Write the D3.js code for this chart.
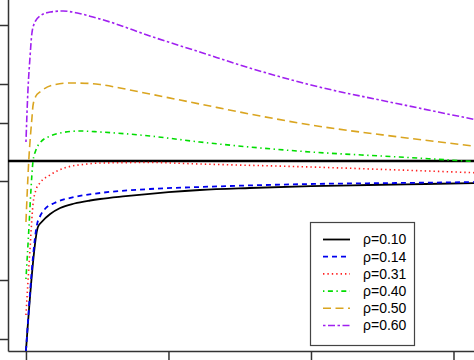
<!DOCTYPE html>
<html>
<head>
<meta charset="utf-8">
<script src="https://cdn.jsdelivr.net/npm/d3@7"></script>
<style>
  body { margin: 0; background: #fff; }
  svg { display: block; font-family: "Liberation Sans", Arial, sans-serif; }
</style>
</head>
<body>
<div id="chart"></div>
<script>
// ticks (labels are cropped off in the reference)
var xTicks = [0, 1, 2, 3];
var yTicks = [1.36, 0.77, 0.38, -0.20, -1.19, -1.78];

// one series per rho
var rhoLabels = ["ρ=0.10", "ρ=0.14", "ρ=0.31", "ρ=0.40", "ρ=0.50", "ρ=0.60"];

var xBlack  = [0, 0.084, 0.11, 0.17, 0.24, 0.34, 0.45, 0.52, 0.7, 0.87, 1.0, 1.22, 1.57, 2.0, 2.4, 2.8, 3.2];
var yBlack  = [-1.90, -0.66, -0.61, -0.53, -0.47, -0.425, -0.395, -0.38, -0.352, -0.328, -0.312, -0.29, -0.27, -0.252, -0.24, -0.23, -0.22];

var xBlue   = [0, 0.08, 0.1, 0.133, 0.2, 0.34, 0.52, 0.87, 1.22, 2.0, 2.6, 3.2];
var yBlue   = [-1.90, -0.62, -0.55, -0.48, -0.42, -0.36, -0.32, -0.28, -0.26, -0.23, -0.22, -0.21];

var xRed    = [0, 0.028, 0.049, 0.07, 0.098, 0.17, 0.27, 0.43, 0.52, 0.87, 1.22, 2.0, 2.62, 3.2];
var yRed    = [-1.54, -0.89, -0.44, -0.29, -0.22, -0.14, -0.07, -0.03, -0.02, -0.015, -0.03, -0.06, -0.09, -0.12];

var xGreen  = [0, 0.02, 0.035, 0.049, 0.07, 0.098, 0.17, 0.24, 0.38, 0.52, 0.87, 1.22, 2.0, 2.62, 3.2];
var yGreen  = [-1.18, -0.69, -0.29, -0.01, 0.11, 0.18, 0.25, 0.28, 0.30, 0.29, 0.25, 0.19, 0.09, 0.04, -0.01];

var xOrange = [0, 0.02, 0.042, 0.05, 0.07, 0.098, 0.19, 0.31, 0.45, 0.52, 0.66, 0.87, 1.22, 1.57, 2.0, 2.62, 3.2];
var yOrange = [-0.61, 0.01, 0.43, 0.56, 0.65, 0.69, 0.76, 0.78, 0.775, 0.765, 0.73, 0.67, 0.57, 0.47, 0.36, 0.24, 0.14];

var xPurple = [0, 0.014, 0.028, 0.042, 0.063, 0.098, 0.17, 0.26, 0.36, 0.47, 0.59, 0.87, 1.22, 1.57, 2.0, 2.62, 3.2];
var yPurple = [0.19, 0.71, 1.03, 1.28, 1.39, 1.45, 1.49, 1.50, 1.48, 1.44, 1.39, 1.25, 1.09, 0.93, 0.76, 0.57, 0.40];

var width = 474, height = 360;

var svg = d3.select("#chart").append("svg")
  .attr("width", width)
  .attr("height", height);

var x = d3.scaleLinear().domain([-0.126, 3.2]).range([8, 482]);
var y = d3.scaleLinear().domain([-1.9, 1.64]).range([351, -3]);

var series = [
  {label: rhoLabels[0], xs: xBlack,  ys: yBlack,  color: "#000000", dash: null,            w: 1.8},
  {label: rhoLabels[1], xs: xBlue,   ys: yBlue,   color: "#0000ee", dash: "5,4",           w: 1.8},
  {label: rhoLabels[2], xs: xRed,    ys: yRed,    color: "#ff2020", dash: "1.4,3",         w: 1.6},
  {label: rhoLabels[3], xs: xGreen,  ys: yGreen,  color: "#00dd00", dash: "1.4,3.5,5,3.5", w: 1.6},
  {label: rhoLabels[4], xs: xOrange, ys: yOrange, color: "#daa520", dash: "8,4.5",         w: 1.6},
  {label: rhoLabels[5], xs: xPurple, ys: yPurple, color: "#a020f0", dash: "2.5,2.5,7,2.5", w: 1.6}
];

svg.append("defs").append("clipPath").attr("id", "plotclip")
  .append("rect").attr("x", 8).attr("y", -10).attr("width", 480).attr("height", 361);

// axes
svg.append("g")
  .attr("transform", "translate(0,351)")
  .call(d3.axisBottom(x).tickValues(xTicks).tickSize(9).tickSizeOuter(0).tickFormat(function() { return ""; }))
  .call(function(g) { g.selectAll("line, path").attr("stroke", "#333").attr("stroke-width", 1.5); });

svg.append("g")
  .attr("transform", "translate(8,0)")
  .call(d3.axisLeft(y).tickValues(yTicks).tickSize(8).tickSizeOuter(0).tickFormat(function() { return ""; }))
  .call(function(g) { g.selectAll("line, path").attr("stroke", "#333").attr("stroke-width", 1.5); });

var plot = svg.append("g").attr("clip-path", "url(#plotclip)");

// zero reference line
plot.append("line")
  .attr("x1", x(-0.126)).attr("x2", x(3.2))
  .attr("y1", y(0)).attr("y2", y(0))
  .attr("stroke", "#000")
  .attr("stroke-width", 2.6);

var line = d3.line()
  .x(function(d) { return x(d[0]); })
  .y(function(d) { return y(d[1]); })
  .curve(d3.curveMonotoneX);

plot.selectAll(".curve")
  .data(series)
  .enter()
  .append("path")
    .attr("class", "curve")
    .attr("fill", "none")
    .attr("stroke", function(d) { return d.color; })
    .attr("stroke-width", function(d) { return d.w; })
    .attr("stroke-dasharray", function(d) { return d.dash; })
    .attr("d", function(d) { return line(d3.zip(d.xs, d.ys)); });

// legend
var legend = svg.append("g");
legend.append("rect")
  .attr("x", 310.5).attr("y", 222.5)
  .attr("width", 104).attr("height", 123)
  .attr("fill", "#fff")
  .attr("stroke", "#444")
  .attr("stroke-width", 1.2);

var rows = legend.selectAll(".row")
  .data(series)
  .enter()
  .append("g")
    .attr("class", "row")
    .attr("transform", function(d, i) { return "translate(0," + (239.5 + i * 17.2) + ")"; });

rows.append("line")
  .attr("x1", 323).attr("x2", 350)
  .attr("y1", 0).attr("y2", 0)
  .attr("stroke", function(d) { return d.color; })
  .attr("stroke-width", function(d) { return d.w; })
  .attr("stroke-dasharray", function(d) { return d.dash; });

rows.append("text")
  .attr("x", 363)
  .attr("y", 0)
  .attr("dy", "0.35em")
  .attr("font-size", 14)
  .attr("fill", "#000")
  .text(function(d) { return d.label; });
</script>
</body>
</html>
